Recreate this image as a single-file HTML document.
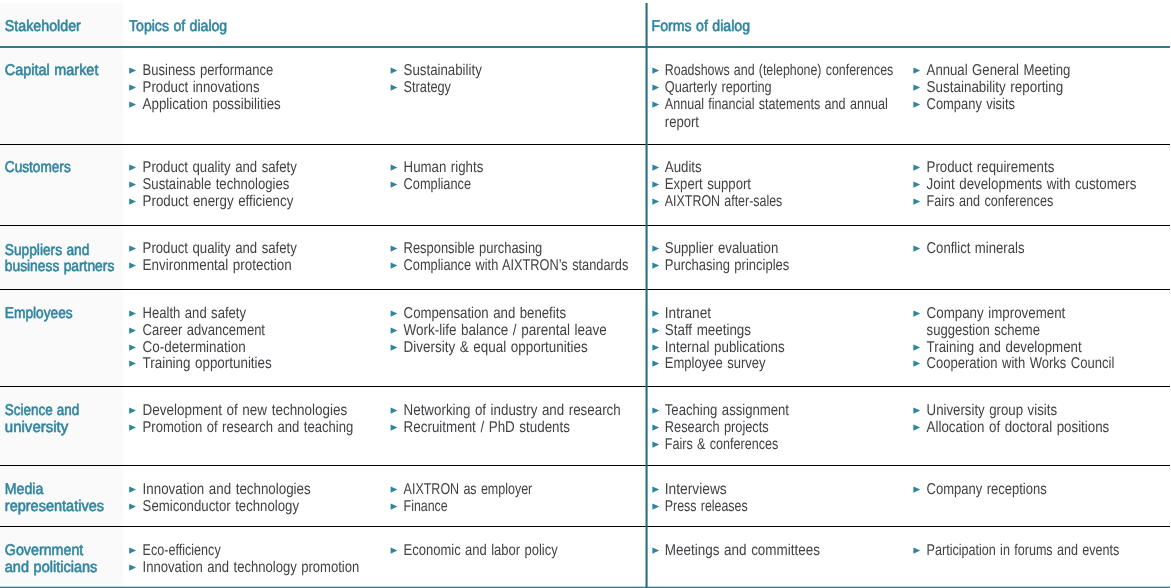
<!DOCTYPE html>
<html lang="en"><head><meta charset="utf-8"><title>Stakeholder dialog</title>
<style>html,body{margin:0;padding:0;background:#fff}svg{display:block}text{font-family:"Liberation Sans",Arial,sans-serif;font-size:15.7px;text-rendering:geometricPrecision}.h{font-size:15.5px;fill:#3085a0;stroke:#3085a0;stroke-width:0.6px;stroke-linejoin:round;word-spacing:0.6px}.t{fill:#424246;word-spacing:1px}.b{fill:#2f859b}</style></head><body>
<svg width="1171" height="588" viewBox="0 0 1171 588">
<rect x="0" y="0" width="1171" height="588" fill="#ffffff"/>
<rect x="0" y="3.4" width="123.3" height="585" fill="#fafafa"/>
<rect x="0" y="46" width="1170" height="2" fill="#33798b"/>
<rect x="0" y="144" width="1170" height="1" fill="#000"/>
<rect x="0" y="225" width="1170" height="1" fill="#000"/>
<rect x="0" y="289" width="1170" height="1" fill="#000"/>
<rect x="0" y="386" width="1170" height="1" fill="#000"/>
<rect x="0" y="465" width="1170" height="1" fill="#000"/>
<rect x="0" y="526" width="1170" height="1" fill="#000"/>
<rect x="0" y="586.7" width="1170" height="2" fill="#33798b"/>
<rect x="645.5" y="3" width="2.1" height="585" fill="#266c83"/>
<text class="h" x="4.8" y="31.0" textLength="76.0" lengthAdjust="spacingAndGlyphs">Stakeholder</text>
<text class="h" x="129.0" y="31.0" textLength="98.2" lengthAdjust="spacingAndGlyphs">Topics of dialog</text>
<text class="h" x="651.6" y="31.0" textLength="98.4" lengthAdjust="spacingAndGlyphs">Forms of dialog</text>
<text class="h" x="4.8" y="75.0" textLength="93.6" lengthAdjust="spacingAndGlyphs">Capital market</text>
<text class="h" x="4.8" y="172.0" textLength="65.9" lengthAdjust="spacingAndGlyphs">Customers</text>
<text class="h" x="4.8" y="255.0" textLength="84.5" lengthAdjust="spacingAndGlyphs">Suppliers and</text>
<text class="h" x="4.8" y="271.0" textLength="109.5" lengthAdjust="spacingAndGlyphs">business partners</text>
<text class="h" x="4.8" y="318.0" textLength="67.9" lengthAdjust="spacingAndGlyphs">Employees</text>
<text class="h" x="4.8" y="415.0" textLength="74.5" lengthAdjust="spacingAndGlyphs">Science and</text>
<text class="h" x="4.8" y="432.0" textLength="63.5" lengthAdjust="spacingAndGlyphs">university</text>
<text class="h" x="4.8" y="494.0" textLength="38.5" lengthAdjust="spacingAndGlyphs">Media</text>
<text class="h" x="4.8" y="511.0" textLength="99.2" lengthAdjust="spacingAndGlyphs">representatives</text>
<text class="h" x="4.8" y="555.0" textLength="78.5" lengthAdjust="spacingAndGlyphs">Government</text>
<text class="h" x="4.8" y="572.0" textLength="92.5" lengthAdjust="spacingAndGlyphs">and politicians</text>
<path class="b" d="M129.2 67.4L136.0 70.6L129.2 73.8Z"/>
<text class="t" x="142.6" y="75.0" textLength="130.6" lengthAdjust="spacingAndGlyphs">Business performance</text>
<path class="b" d="M129.2 84.4L136.0 87.6L129.2 90.8Z"/>
<text class="t" x="142.6" y="92.0" textLength="117.0" lengthAdjust="spacingAndGlyphs">Product innovations</text>
<path class="b" d="M129.2 101.4L136.0 104.6L129.2 107.8Z"/>
<text class="t" x="142.6" y="109.0" textLength="138.2" lengthAdjust="spacingAndGlyphs">Application possibilities</text>
<path class="b" d="M390.6 67.4L397.4 70.6L390.6 73.8Z"/>
<text class="t" x="403.6" y="75.0" textLength="78.2" lengthAdjust="spacingAndGlyphs">Sustainability</text>
<path class="b" d="M390.6 84.4L397.4 87.6L390.6 90.8Z"/>
<text class="t" x="403.6" y="92.0" textLength="47.4" lengthAdjust="spacingAndGlyphs">Strategy</text>
<path class="b" d="M652.4 67.4L659.2 70.6L652.4 73.8Z"/>
<text class="t" x="664.8" y="75.0" textLength="228.5" lengthAdjust="spacingAndGlyphs">Roadshows and (telephone) conferences</text>
<path class="b" d="M652.4 84.4L659.2 87.6L652.4 90.8Z"/>
<text class="t" x="664.8" y="92.0" textLength="106.9" lengthAdjust="spacingAndGlyphs">Quarterly reporting</text>
<path class="b" d="M652.4 101.4L659.2 104.6L652.4 107.8Z"/>
<text class="t" x="664.8" y="109.0" textLength="222.9" lengthAdjust="spacingAndGlyphs">Annual financial statements and annual</text>
<text class="t" x="664.8" y="127.0" textLength="34.2" lengthAdjust="spacingAndGlyphs">report</text>
<path class="b" d="M913.4 67.4L920.2 70.6L913.4 73.8Z"/>
<text class="t" x="926.6" y="75.0" textLength="143.7" lengthAdjust="spacingAndGlyphs">Annual General Meeting</text>
<path class="b" d="M913.4 84.4L920.2 87.6L913.4 90.8Z"/>
<text class="t" x="926.6" y="92.0" textLength="136.7" lengthAdjust="spacingAndGlyphs">Sustainability reporting</text>
<path class="b" d="M913.4 101.4L920.2 104.6L913.4 107.8Z"/>
<text class="t" x="926.6" y="109.0" textLength="88.4" lengthAdjust="spacingAndGlyphs">Company visits</text>
<path class="b" d="M129.2 164.4L136.0 167.6L129.2 170.8Z"/>
<text class="t" x="142.6" y="172.0" textLength="154.2" lengthAdjust="spacingAndGlyphs">Product quality and safety</text>
<path class="b" d="M129.2 181.4L136.0 184.6L129.2 187.8Z"/>
<text class="t" x="142.6" y="189.0" textLength="146.8" lengthAdjust="spacingAndGlyphs">Sustainable technologies</text>
<path class="b" d="M129.2 198.4L136.0 201.6L129.2 204.8Z"/>
<text class="t" x="142.6" y="206.0" textLength="150.7" lengthAdjust="spacingAndGlyphs">Product energy efficiency</text>
<path class="b" d="M390.6 164.4L397.4 167.6L390.6 170.8Z"/>
<text class="t" x="403.6" y="172.0" textLength="79.7" lengthAdjust="spacingAndGlyphs">Human rights</text>
<path class="b" d="M390.6 181.4L397.4 184.6L390.6 187.8Z"/>
<text class="t" x="403.6" y="189.0" textLength="67.4" lengthAdjust="spacingAndGlyphs">Compliance</text>
<path class="b" d="M652.4 164.4L659.2 167.6L652.4 170.8Z"/>
<text class="t" x="664.8" y="172.0" textLength="36.9" lengthAdjust="spacingAndGlyphs">Audits</text>
<path class="b" d="M652.4 181.4L659.2 184.6L652.4 187.8Z"/>
<text class="t" x="664.8" y="189.0" textLength="86.2" lengthAdjust="spacingAndGlyphs">Expert support</text>
<path class="b" d="M652.4 198.4L659.2 201.6L652.4 204.8Z"/>
<text class="t" x="664.8" y="206.0" textLength="117.5" lengthAdjust="spacingAndGlyphs">AIXTRON after-sales</text>
<path class="b" d="M913.4 164.4L920.2 167.6L913.4 170.8Z"/>
<text class="t" x="926.6" y="172.0" textLength="127.7" lengthAdjust="spacingAndGlyphs">Product requirements</text>
<path class="b" d="M913.4 181.4L920.2 184.6L913.4 187.8Z"/>
<text class="t" x="926.6" y="189.0" textLength="209.7" lengthAdjust="spacingAndGlyphs">Joint developments with customers</text>
<path class="b" d="M913.4 198.4L920.2 201.6L913.4 204.8Z"/>
<text class="t" x="926.6" y="206.0" textLength="126.7" lengthAdjust="spacingAndGlyphs">Fairs and conferences</text>
<path class="b" d="M129.2 245.4L136.0 248.6L129.2 251.8Z"/>
<text class="t" x="142.6" y="253.0" textLength="154.2" lengthAdjust="spacingAndGlyphs">Product quality and safety</text>
<path class="b" d="M129.2 262.4L136.0 265.6L129.2 268.8Z"/>
<text class="t" x="142.6" y="270.0" textLength="149.1" lengthAdjust="spacingAndGlyphs">Environmental protection</text>
<path class="b" d="M390.6 245.4L397.4 248.6L390.6 251.8Z"/>
<text class="t" x="403.6" y="253.0" textLength="138.7" lengthAdjust="spacingAndGlyphs">Responsible purchasing</text>
<path class="b" d="M390.6 262.4L397.4 265.6L390.6 268.8Z"/>
<text class="t" x="403.6" y="270.0" textLength="224.7" lengthAdjust="spacingAndGlyphs">Compliance with AIXTRON’s standards</text>
<path class="b" d="M652.4 245.4L659.2 248.6L652.4 251.8Z"/>
<text class="t" x="664.8" y="253.0" textLength="113.5" lengthAdjust="spacingAndGlyphs">Supplier evaluation</text>
<path class="b" d="M652.4 262.4L659.2 265.6L652.4 268.8Z"/>
<text class="t" x="664.8" y="270.0" textLength="124.5" lengthAdjust="spacingAndGlyphs">Purchasing principles</text>
<path class="b" d="M913.4 245.4L920.2 248.6L913.4 251.8Z"/>
<text class="t" x="926.6" y="253.0" textLength="97.9" lengthAdjust="spacingAndGlyphs">Conflict minerals</text>
<path class="b" d="M129.2 310.4L136.0 313.6L129.2 316.8Z"/>
<text class="t" x="142.6" y="318.0" textLength="103.4" lengthAdjust="spacingAndGlyphs">Health and safety</text>
<path class="b" d="M129.2 327.4L136.0 330.6L129.2 333.8Z"/>
<text class="t" x="142.6" y="335.0" textLength="122.4" lengthAdjust="spacingAndGlyphs">Career advancement</text>
<path class="b" d="M129.2 344.4L136.0 347.6L129.2 350.8Z"/>
<text class="t" x="142.6" y="352.0" textLength="103.1" lengthAdjust="spacingAndGlyphs">Co-determination</text>
<path class="b" d="M129.2 360.4L136.0 363.6L129.2 366.8Z"/>
<text class="t" x="142.6" y="368.0" textLength="129.1" lengthAdjust="spacingAndGlyphs">Training opportunities</text>
<path class="b" d="M390.6 310.4L397.4 313.6L390.6 316.8Z"/>
<text class="t" x="403.6" y="318.0" textLength="162.4" lengthAdjust="spacingAndGlyphs">Compensation and benefits</text>
<path class="b" d="M390.6 327.4L397.4 330.6L390.6 333.8Z"/>
<text class="t" x="403.6" y="335.0" textLength="203.1" lengthAdjust="spacingAndGlyphs">Work-life balance / parental leave</text>
<path class="b" d="M390.6 344.4L397.4 347.6L390.6 350.8Z"/>
<text class="t" x="403.6" y="352.0" textLength="184.1" lengthAdjust="spacingAndGlyphs">Diversity &amp; equal opportunities</text>
<path class="b" d="M652.4 310.4L659.2 313.6L652.4 316.8Z"/>
<text class="t" x="664.8" y="318.0" textLength="46.2" lengthAdjust="spacingAndGlyphs">Intranet</text>
<path class="b" d="M652.4 327.4L659.2 330.6L652.4 333.8Z"/>
<text class="t" x="664.8" y="335.0" textLength="86.2" lengthAdjust="spacingAndGlyphs">Staff meetings</text>
<path class="b" d="M652.4 344.4L659.2 347.6L652.4 350.8Z"/>
<text class="t" x="664.8" y="352.0" textLength="119.9" lengthAdjust="spacingAndGlyphs">Internal publications</text>
<path class="b" d="M652.4 360.4L659.2 363.6L652.4 366.8Z"/>
<text class="t" x="664.8" y="368.0" textLength="100.7" lengthAdjust="spacingAndGlyphs">Employee survey</text>
<path class="b" d="M913.4 310.4L920.2 313.6L913.4 316.8Z"/>
<text class="t" x="926.6" y="318.0" textLength="138.7" lengthAdjust="spacingAndGlyphs">Company improvement</text>
<text class="t" x="926.6" y="335.0" textLength="113.4" lengthAdjust="spacingAndGlyphs">suggestion scheme</text>
<path class="b" d="M913.4 344.4L920.2 347.6L913.4 350.8Z"/>
<text class="t" x="926.6" y="352.0" textLength="155.1" lengthAdjust="spacingAndGlyphs">Training and development</text>
<path class="b" d="M913.4 360.4L920.2 363.6L913.4 366.8Z"/>
<text class="t" x="926.6" y="368.0" textLength="187.7" lengthAdjust="spacingAndGlyphs">Cooperation with Works Council</text>
<path class="b" d="M129.2 407.4L136.0 410.6L129.2 413.8Z"/>
<text class="t" x="142.6" y="415.0" textLength="204.7" lengthAdjust="spacingAndGlyphs">Development of new technologies</text>
<path class="b" d="M129.2 424.4L136.0 427.6L129.2 430.8Z"/>
<text class="t" x="142.6" y="432.0" textLength="210.7" lengthAdjust="spacingAndGlyphs">Promotion of research and teaching</text>
<path class="b" d="M390.6 407.4L397.4 410.6L390.6 413.8Z"/>
<text class="t" x="403.6" y="415.0" textLength="217.1" lengthAdjust="spacingAndGlyphs">Networking of industry and research</text>
<path class="b" d="M390.6 424.4L397.4 427.6L390.6 430.8Z"/>
<text class="t" x="403.6" y="432.0" textLength="166.4" lengthAdjust="spacingAndGlyphs">Recruitment / PhD students</text>
<path class="b" d="M652.4 407.4L659.2 410.6L652.4 413.8Z"/>
<text class="t" x="664.8" y="415.0" textLength="124.2" lengthAdjust="spacingAndGlyphs">Teaching assignment</text>
<path class="b" d="M652.4 424.4L659.2 427.6L652.4 430.8Z"/>
<text class="t" x="664.8" y="432.0" textLength="103.9" lengthAdjust="spacingAndGlyphs">Research projects</text>
<path class="b" d="M652.4 441.4L659.2 444.6L652.4 447.8Z"/>
<text class="t" x="664.8" y="449.0" textLength="113.5" lengthAdjust="spacingAndGlyphs">Fairs &amp; conferences</text>
<path class="b" d="M913.4 407.4L920.2 410.6L913.4 413.8Z"/>
<text class="t" x="926.6" y="415.0" textLength="130.4" lengthAdjust="spacingAndGlyphs">University group visits</text>
<path class="b" d="M913.4 424.4L920.2 427.6L913.4 430.8Z"/>
<text class="t" x="926.6" y="432.0" textLength="182.7" lengthAdjust="spacingAndGlyphs">Allocation of doctoral positions</text>
<path class="b" d="M129.2 486.4L136.0 489.6L129.2 492.8Z"/>
<text class="t" x="142.6" y="494.0" textLength="168.1" lengthAdjust="spacingAndGlyphs">Innovation and technologies</text>
<path class="b" d="M129.2 503.4L136.0 506.6L129.2 509.8Z"/>
<text class="t" x="142.6" y="511.0" textLength="156.4" lengthAdjust="spacingAndGlyphs">Semiconductor technology</text>
<path class="b" d="M390.6 486.4L397.4 489.6L390.6 492.8Z"/>
<text class="t" x="403.6" y="494.0" textLength="128.7" lengthAdjust="spacingAndGlyphs">AIXTRON as employer</text>
<path class="b" d="M390.6 503.4L397.4 506.6L390.6 509.8Z"/>
<text class="t" x="403.6" y="511.0" textLength="44.1" lengthAdjust="spacingAndGlyphs">Finance</text>
<path class="b" d="M652.4 486.4L659.2 489.6L652.4 492.8Z"/>
<text class="t" x="664.8" y="494.0" textLength="61.9" lengthAdjust="spacingAndGlyphs">Interviews</text>
<path class="b" d="M652.4 503.4L659.2 506.6L652.4 509.8Z"/>
<text class="t" x="664.8" y="511.0" textLength="82.9" lengthAdjust="spacingAndGlyphs">Press releases</text>
<path class="b" d="M913.4 486.4L920.2 489.6L913.4 492.8Z"/>
<text class="t" x="926.6" y="494.0" textLength="120.1" lengthAdjust="spacingAndGlyphs">Company receptions</text>
<path class="b" d="M129.2 547.4L136.0 550.6L129.2 553.8Z"/>
<text class="t" x="142.6" y="555.0" textLength="78.1" lengthAdjust="spacingAndGlyphs">Eco-efficiency</text>
<path class="b" d="M129.2 564.4L136.0 567.6L129.2 570.8Z"/>
<text class="t" x="142.6" y="572.0" textLength="216.7" lengthAdjust="spacingAndGlyphs">Innovation and technology promotion</text>
<path class="b" d="M390.6 547.4L397.4 550.6L390.6 553.8Z"/>
<text class="t" x="403.6" y="555.0" textLength="154.1" lengthAdjust="spacingAndGlyphs">Economic and labor policy</text>
<path class="b" d="M652.4 547.4L659.2 550.6L652.4 553.8Z"/>
<text class="t" x="664.8" y="555.0" textLength="155.2" lengthAdjust="spacingAndGlyphs">Meetings and committees</text>
<path class="b" d="M913.4 547.4L920.2 550.6L913.4 553.8Z"/>
<text class="t" x="926.6" y="555.0" textLength="192.7" lengthAdjust="spacingAndGlyphs">Participation in forums and events</text>
</svg></body></html>
